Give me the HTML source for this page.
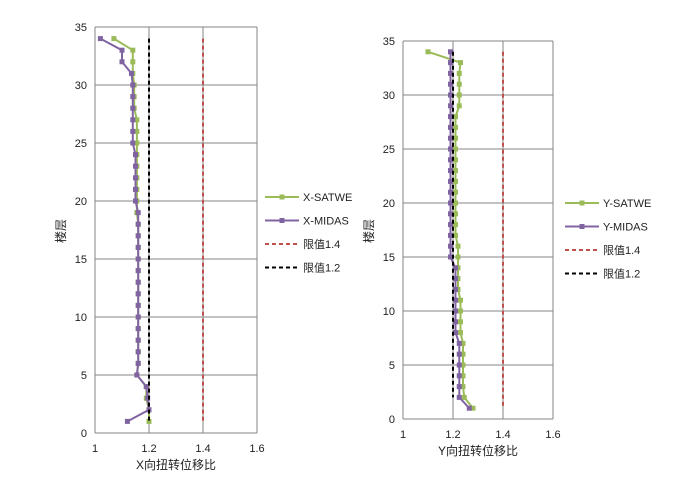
<!DOCTYPE html>
<html><head><meta charset="utf-8"><style>
body{margin:0;background:#fff;width:700px;height:477px;overflow:hidden}
svg text{font-family:"Liberation Sans","Noto Sans CJK SC",sans-serif;fill:#222}
</style></head><body>
<svg id="s" width="700" height="477" xmlns="http://www.w3.org/2000/svg"></svg>
<script>
const s=document.getElementById('s');let h='';
function chart(L,R,T,B,xs,ys,series,lx,ly,names,xlab){
 const X=v=>L+(v-1)/0.6*(R-L),Y=f=>B-f/35*(B-T);
 for(let i=0;i<=7;i++){const y=Y(i*5);h+=`<line x1="${L}" x2="${R}" y1="${y}" y2="${y}" stroke="#868686" stroke-width="1"/>`;h+=`<text x="${L-8}" y="${y+4}" font-size="11" text-anchor="end">${i*5}</text>`;}
 for(let i=0;i<=3;i++){const x=X(1+i*0.2);h+=`<line x1="${x}" x2="${x}" y1="${T}" y2="${B}" stroke="#868686"/>`;h+=`<text x="${x}" y="${B+19}" font-size="11" text-anchor="middle">${i?(1+i*0.2).toFixed(1):1}</text>`;}
 h+=`<text x="${(L+R)/2}" y="${B+36}" font-size="12" text-anchor="middle">${xlab}</text>`;
 h+=`<text transform="translate(${L-30},${(T+B)/2+13}) rotate(-90)" font-size="12">楼层</text>`;
 series.forEach(sr=>{
  const pts=sr.d.map(p=>X(p[0]).toFixed(1)+','+Y(p[1]).toFixed(1)).join(' ');
  h+=`<polyline points="${pts}" fill="none" stroke="${sr.c}" stroke-width="${sr.w||2}" ${sr.dash?'stroke-dasharray="4,3"':''}/>`;
  if(sr.m)sr.d.forEach(p=>h+=`<rect x="${X(p[0])-2.5}" y="${Y(p[1])-2.5}" width="5" height="5" fill="${sr.c}"/>`);
 });
 series.forEach((sr,i)=>{const y=ly+i*23.5;
  h+=`<line x1="${lx}" x2="${lx+34}" y1="${y}" y2="${y}" stroke="${sr.c}" stroke-width="2" ${sr.dash?'stroke-dasharray="4,3"':''}/>`;
  if(sr.m)h+=`<rect x="${lx+14.5}" y="${y-2.5}" width="5" height="5" fill="${sr.c}"/>`;
  h+=`<text x="${lx+38}" y="${y+4}" font-size="11">${names[i]}</text>`;});
}
function mk(f){const a=[];for(let i=34;i>=1;i--)a.push([f(i),i]);return a;}
const G='#9bbb59',P='#8064a2',Rd='#c0504d',K='#000';
chart(95,257,27,433,0,0,[
 {c:G,m:1,d:mk(i=>({34:1.07,33:1.14,32:1.14,31:1.14,5:1.155,4:1.19,3:1.19,2:1.2,1:1.2})[i]||(i>=28?1.145:i>=19?1.155:1.16))},
 {c:P,m:1,d:mk(i=>({34:1.02,33:1.10,32:1.10,31:1.135,5:1.155,4:1.19,3:1.195,2:1.2,1:1.12})[i]||(i>=25?1.14:i>=20?1.15:1.16))},
 {c:Rd,dash:1,d:[[1.4,34],[1.4,1]]},
 {c:K,dash:1,d:[[1.2,34],[1.2,1]]}
],265,197,['X-SATWE','X-MIDAS','限值1.4','限值1.2'],'X向扭转位移比');
chart(403,553,41,419,0,0,[
 {c:G,m:1,d:mk(i=>({34:1.1,33:1.23,2:1.245,1:1.28})[i]||(i>=29?1.225:i>=17?1.21:i>=12?1.22:i>=8?1.23:1.24))},
 {c:P,m:1,d:mk(i=>({34:1.19,1:1.265})[i]||(i>=15?1.19:i>=8?1.21:1.225))},
 {c:Rd,dash:1,d:[[1.4,34],[1.4,1]]},
 {c:K,dash:1,d:[[1.2,34],[1.2,2]]}
],565,203,['Y-SATWE','Y-MIDAS','限值1.4','限值1.2'],'Y向扭转位移比');
s.innerHTML=h;
</script>
</body></html>
